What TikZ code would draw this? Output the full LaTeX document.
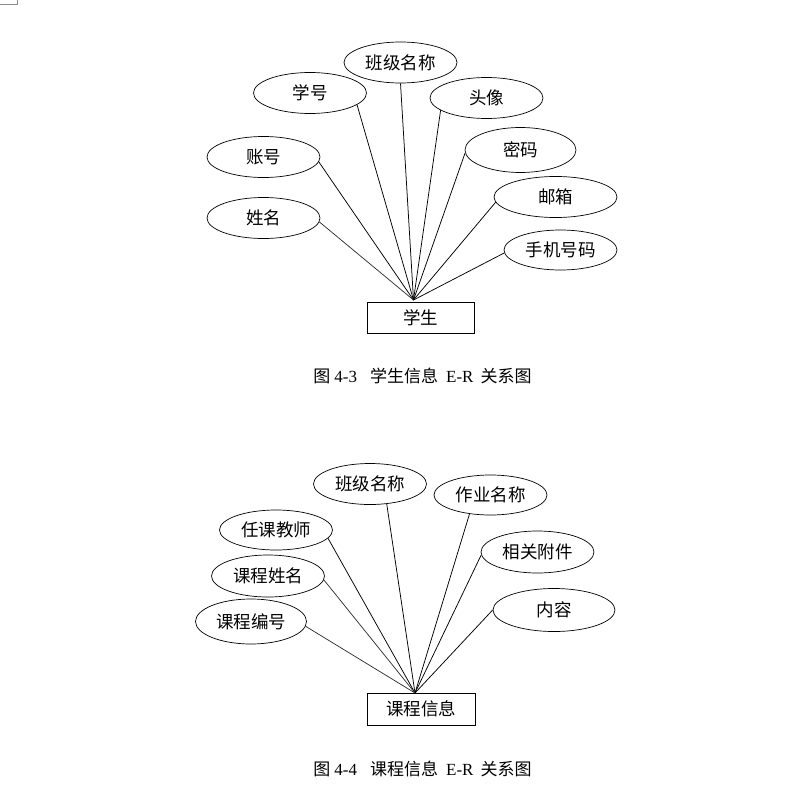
\documentclass[tikz,border=0pt]{standalone}
\usepackage{fontspec}
\setmainfont{Liberation Serif}
\newfontfamily\cjk{Noto Sans CJK SC}
\usetikzlibrary{shapes.geometric}
\newcommand{\capline}[2]{{\cjk 图}\hspace{4pt}#1\hspace{13pt}{\cjk #2}\hspace{8pt}E-R\hspace{7pt}{\cjk 关系图}}
\begin{document}
\begin{tikzpicture}[x=1pt,y=-1pt,
  attr/.style={ellipse,draw,line width=0.7pt,inner sep=0pt,minimum width=113pt,minimum height=41pt,font=\cjk\fontsize{17.5}{19}\selectfont},
  ent/.style={rectangle,draw,line width=0.8pt,inner sep=0pt,minimum width=107pt,minimum height=31pt,font=\cjk\fontsize{17.5}{19}\selectfont},
  link/.style={line width=0.75pt,black},
  captext/.style={font=\fontsize{17}{19}\selectfont,inner sep=0pt}]
\useasboundingbox (0,0) rectangle (803,800);
% corner mark
\draw[black!45,line width=0.6pt] (0,4.3) -- (17,4.3) -- (17,0);

% ---------- diagram 1 ----------
\node[attr] (bj1) at (400.5,62.5) {班级名称};
\node[attr] (xh) at (310,93) {学号};
\node[attr] (tx) at (486.5,98) {头像};
\node[attr] (zh) at (263.5,157) {账号};
\node[attr,minimum width=111pt,minimum height=45pt] (mm) at (520.5,150) {密码};
\node[attr,minimum width=123pt] (yx) at (555.5,197) {邮箱};
\node[attr] (xm) at (263.5,218) {姓名};
\node[attr,minimum height=40pt] (sj) at (560.5,250) {手机号码};
\node[ent] (xs) at (420.5,317.5) {学生};
\coordinate (p1) at (413.5,300);
\draw[link] (bj1.270) -- (p1);
\draw[link] (xh.346) -- (p1);
\draw[link] (tx.195) -- (p1);
\draw[link] (zh.355) -- (p1);
\draw[link] (mm.183) -- (p1);
\draw[link] (yx.185) -- (p1);
\draw[link,black!80] (xm.356) -- (p1);
\draw[link] (sj.183) -- (p1);
\node[captext] (c1) at (422.5,376) {\capline{4-3}{学生信息}};

% ---------- diagram 2 ----------
\node[attr] (bj2) at (370,484) {班级名称};
\node[attr,minimum height=40pt] (zy) at (490.5,495) {作业名称};
\node[attr,minimum height=40pt] (rk) at (276,530) {任课教师};
\node[attr,minimum height=42pt] (xg) at (537.5,552) {相关附件};
\node[attr,minimum height=42pt] (kx) at (268,576) {课程姓名};
\node[attr,minimum width=122pt,minimum height=43pt] (nr) at (554,610) {内容};
\node[attr,minimum width=111pt,minimum height=45pt] (kb) at (251,621.5) {课程编号};
\node[ent,minimum width=108pt,minimum height=32pt] (kc) at (421,709) {课程信息};
\coordinate (p2) at (415,693);
\draw[link] (bj2.310) -- (p2);
\draw[link] (zy.222) -- (p2);
\draw[link] (rk.351) -- (p2);
\draw[link] (xg.183) -- (p2);
\draw[link,black!80] (kx.356) -- (p2);
\draw[link] (nr.180) -- (p2);
\draw[link,black!80] (kb.355) -- (p2);
\node[captext] (c2) at (422.5,769) {\capline{4-4}{课程信息}};
\end{tikzpicture}
\end{document}
